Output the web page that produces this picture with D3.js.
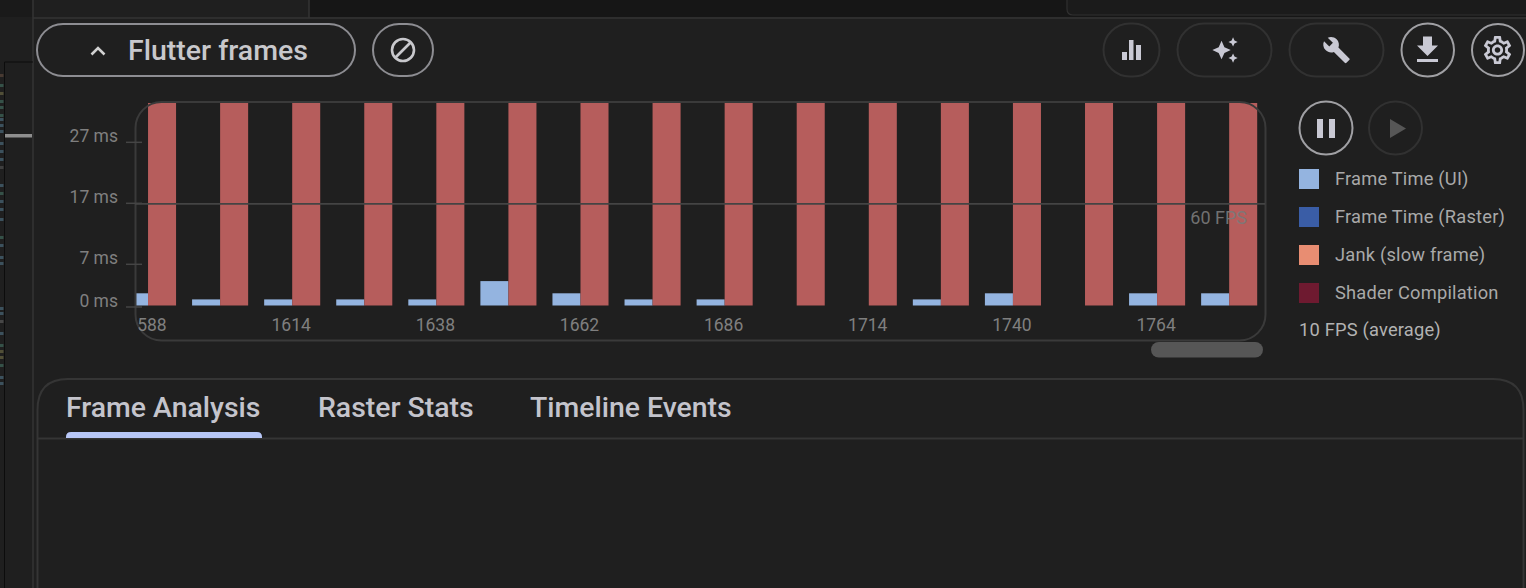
<!DOCTYPE html>
<html><head><meta charset="utf-8">
<style>html,body{margin:0;padding:0;background:#1f1f1f;overflow:hidden}svg{display:block}text{font-family:Roboto,sans-serif}</style>
<script src="https://cdn.jsdelivr.net/npm/d3@7"></script></head><body>
<svg id="c" width="1526" height="588"></svg>
<script>
// ---- data ----
const frameIds   = [1588,1601,1614,1626,1638,1650,1662,1674,1686,1700,1714,1727,1740,1752,1764,1776];
const frameUiMs  = [2,1,1,1,1,4,2,1,1,0,0,1,2,0,2,2];
const frameRasterMs = [34,34,34,34,34,34,34,34,34,34,34,34,34,34,34,34];
const xTickFrames = [1588,1614,1638,1662,1686,1714,1740,1764];
const yTickMs = [0,7,17,27];
const targetMs = 16.67;
const targetLabel = "60 FPS";
const legendLabels = ["Frame Time (UI)","Frame Time (Raster)","Jank (slow frame)","Shader Compilation"];
const legendColors = ["#94b4e0","#3a5da6","#e88d72","#6e1a30"];
const averageLabel = "10 FPS (average)";
const tabLabels = ["Frame Analysis","Raster Stats","Timeline Events"];
const titleLabel = "Flutter frames";

const svg = d3.select("#c");
const line="#353535";

// ---- surrounding chrome ----
svg.append("rect").attr("x",0).attr("y",0).attr("width",33).attr("height",17).attr("fill","#1a1a1a");
svg.append("rect").attr("x",309).attr("y",0).attr("width",1217).attr("height",17).attr("fill","#161616");
svg.append("path").attr("d","M1067,0V9Q1067,15 1073,15H1526V0z").attr("fill","#1b1b1b");
svg.append("path").attr("d","M1067,0V9Q1067,15 1073,15H1526").attr("fill","none").attr("stroke","#303030").attr("stroke-width",1.2);
svg.append("path").attr("d","M33,0V588M33,18H1526M309,0V18").attr("fill","none").attr("stroke",line).attr("stroke-width",1.5);
svg.append("path").attr("d","M4.5,62V588M4.5,62H33").attr("stroke","#0c0c0c").attr("stroke-width",1).attr("fill","none");
svg.append("rect").attr("x",5).attr("y",134).attr("width",27).attr("height",3.5).attr("fill","#8e8e8e");
const specks=[[74,"#7a5a4a"],[84,"#4f8f7a"],[92,"#8e8a55"],[100,"#4f8f7a"],[106,"#4f8f7a"],[114,"#4f8f7a"],[118,"#5f8fa8"],[124,"#5f8fa8"],[130,"#5f8fa8"],[142,"#5f8fa8"],[150,"#5f8fa8"],[158,"#5f8fa8"],[166,"#666"],[184,"#5f8fa8"],[192,"#4f8f7a"],[200,"#5f8fa8"],[208,"#5f8fa8"],[218,"#5f8fa8"],[236,"#4f8f7a"],[244,"#5f8fa8"],[256,"#5f8fa8"],[262,"#5f8fa8"],[307,"#5f8fa8"],[312,"#5f8fa8"],[320,"#777"],[332,"#5f8fa8"],[344,"#4f8f7a"],[350,"#8e8a55"],[356,"#8e8a55"],[364,"#4f8f7a"],[376,"#5f8fa8"],[382,"#5f8fa8"]];
svg.selectAll(".sp").data(specks).join("rect").attr("class","sp").attr("x",0).attr("width",3.5).attr("y",d=>d[0]).attr("height",3).attr("fill",d=>d[1]).attr("opacity",.45);

// ---- header buttons ----
function pill(x0,x1,cy,h,stroke){svg.append("rect").attr("x",x0).attr("y",cy-h/2).attr("width",x1-x0).attr("height",h).attr("rx",h/2).attr("fill","none").attr("stroke",stroke).attr("stroke-width",2);}
function icon(d,cx,cy,s,fill){svg.append("path").attr("d",d).attr("transform",`translate(${cx-12*s},${cy-12*s}) scale(${s})`).attr("fill",fill);}
const bright="#8d8d92",dim="#313131",ic="#c9c9d4";
pill(37,355,50,52,bright);
svg.append("path").attr("d","M91.5,54.5L98,48L104.5,54.5").attr("fill","none").attr("stroke","#d2d2d2").attr("stroke-width",2.6);
svg.append("text").attr("x",128).attr("y",60).attr("font-size",28.5).attr("font-weight",500).attr("fill","#c8c8cc").text(titleLabel);
pill(373,433,50,52,bright);
svg.append("circle").attr("cx",403).attr("cy",50).attr("r",11).attr("fill","none").attr("stroke","#c8c8cc").attr("stroke-width",2.6);
svg.append("path").attr("d","M395,58L411,42").attr("stroke","#c8c8cc").attr("stroke-width",2.6);

pill(1103.5,1159.5,50,53,dim);
icon("M2.5,14h5v8h-5zM9.5,2h4.5v20h-4.5zM16.5,7h5v15h-5z",1131.5,50,1,ic);
pill(1177.5,1271.5,50,53,dim);
icon("M19 9l1.25-2.75L23 5l-2.75-1.25L19 1l-1.25 2.75L15 5l2.75 1.25L19 9zm-7.5.5L9 4 6.5 9.5 1 12l5.5 2.5L9 20l2.5-5.5L17 12l-5.5-2.5zM19 15l-1.25 2.75L15 19l2.75 1.25L19 23l1.25-2.75L23 19l-2.75-1.25L19 15z",1225,50,1.15,ic);
pill(1289.5,1383.5,50,53,dim);
icon("M22.7 19l-9.1-9.1c.9-2.3.4-5-1.5-6.9-2-2-5-2.4-7.4-1.3L9 6 6 9 1.6 4.7C.4 7.1.9 10.1 2.9 12.1c1.9 1.9 4.6 2.4 6.9 1.5l9.1 9.1c.4.4 1 .4 1.4 0l2.3-2.3c.5-.4.5-1.1.1-1.4z",1336.5,50,1.2,ic);
pill(1401.5,1454,50,53,"#a0a0a4");
icon("M19 9h-4V3H9v6H5l7 7 7-7zM5 18v2h14v-2H5z",1427.5,50,1.5,ic);
pill(1472,1524,50,52,"#a0a0a4");
icon("M19.43 12.98c.04-.32.07-.64.07-.98 0-.34-.03-.66-.07-.98l2.11-1.65c.19-.15.24-.42.12-.64l-2-3.46c-.09-.16-.26-.25-.44-.25-.06 0-.12.01-.17.03l-2.49 1c-.52-.4-1.08-.73-1.69-.98l-.38-2.65C14.46 2.18 14.25 2 14 2h-4c-.25 0-.46.18-.49.42l-.38 2.65c-.61.25-1.17.59-1.69.98l-2.49-1c-.06-.02-.12-.03-.18-.03-.17 0-.34.09-.43.25l-2 3.46c-.13.22-.07.49.12.64l2.11 1.65c-.04.32-.07.65-.07.98 0 .33.03.66.07.98l-2.11 1.65c-.19.15-.24.42-.12.64l2 3.46c.09.16.26.25.44.25.06 0 .12-.01.17-.03l2.49-1c.52.4 1.08.73 1.69.98l.38 2.65c.03.24.24.42.49.42h4c.25 0 .46-.18.49-.42l.38-2.65c.61-.25 1.17-.59 1.69-.98l2.49 1c.06.02.12.03.18.03.17 0 .34-.09.43-.25l2-3.46c.12-.22.07-.49-.12-.64l-2.11-1.65zm-1.98-1.71c.04.31.05.52.05.73 0 .21-.02.43-.05.73l-.14 1.13.89.7 1.08.84-.7 1.21-1.27-.51-1.04-.42-.9.68c-.43.32-.84.56-1.25.73l-1.06.43-.16 1.13-.2 1.35h-1.4l-.19-1.35-.16-1.13-1.06-.43c-.43-.18-.83-.41-1.23-.71l-.91-.7-1.06.43-1.27.51-.7-1.21 1.08-.84.89-.7-.14-1.13c-.03-.31-.05-.54-.05-.74s.02-.43.05-.73l.14-1.13-.89-.7-1.08-.84.7-1.21 1.27.51 1.04.42.9-.68c.43-.32.84-.56 1.25-.73l1.06-.43.16-1.13.2-1.35h1.39l.19 1.35.16 1.13 1.06.43c.43.18.83.41 1.23.71l.91.7 1.06-.43 1.27-.51.7 1.21-1.07.85-.89.7.14 1.13zM12 8c-2.21 0-4 1.79-4 4s1.79 4 4 4 4-1.79 4-4-1.79-4-4-4zm0 6c-1.1 0-2-.9-2-2s.9-2 2-2 2 .9 2 2-.9 2-2 2z",1497.5,50,1.4,ic);

// pause / play
pill(1299.5,1352.5,128,53,"#a0a0a4");
svg.append("path").attr("d","M1317,119h6v19h-6zM1329,119h6v19h-6z").attr("fill",ic);
pill(1369,1422,128,53,dim);
svg.append("path").attr("d","M1390,119L1406,128.5L1390,138z").attr("fill","#565656");

// ---- chart ----
const x = d3.scaleBand().domain(frameIds).range([112,1265.2]).paddingInner(16/72).paddingOuter(8/72);
const sub = d3.scaleBand().domain(["ui","raster"]).range([0,x.bandwidth()]);
const y = d3.scaleLinear().domain([0,33.2]).range([305.5,103]);

svg.append("clipPath").attr("id","plot").append("rect").attr("x",136).attr("y",103).attr("width",1128).attr("height",240);

const plot = svg.append("g").attr("clip-path","url(#plot)");
plot.selectAll(".ui").data(frameIds).join("rect").attr("class","ui")
  .attr("x",d=>x(d)+sub("ui")).attr("width",sub.bandwidth())
  .attr("y",(d,i)=>y(frameUiMs[i])).attr("height",(d,i)=>y(0)-y(frameUiMs[i]))
  .attr("fill",legendColors[0]);
plot.selectAll(".raster").data(frameIds).join("rect").attr("class","raster")
  .attr("x",d=>x(d)+sub("raster")).attr("width",sub.bandwidth())
  .attr("y",(d,i)=>y(frameRasterMs[i])).attr("height",(d,i)=>y(0)-y(frameRasterMs[i]))
  .attr("fill","#b65d5c");

// chart frame
svg.append("rect").attr("x",135.5).attr("y",102).attr("width",1130).attr("height",238.5).attr("rx",26)
  .attr("fill","none").attr("stroke","#3a3a3a").attr("stroke-width",2);

// y axis
const yAxis = d3.axisLeft(y).tickValues(yTickMs).tickSize(16).tickPadding(8).tickFormat(d=>d+" ms");
const gy = svg.append("g").attr("transform","translate(142,1)").call(yAxis);
gy.select(".domain").remove();
gy.selectAll(".tick line").attr("stroke","#454545").attr("stroke-width",1.5);
gy.selectAll(".tick text").attr("fill","#7f7f7f").attr("font-size",17.5).attr("font-family","Roboto,sans-serif").attr("y",-5.5);

// target line
svg.append("line").attr("x1",135).attr("x2",1265).attr("y1",y(targetMs)).attr("y2",y(targetMs)).attr("stroke","#444").attr("stroke-width",1.7);
svg.append("text").attr("x",1247).attr("y",224).attr("text-anchor","end").attr("font-size",18).attr("fill","#7a7a7a").attr("opacity",.9).text(targetLabel);

// x axis labels sit at the left edge of the raster bar
const xTick = d=>x(d)+sub("raster")-1;
const xg = svg.append("g").attr("clip-path","url(#plot)");
xg.selectAll("text").data(xTickFrames).join("text")
  .attr("x",xTick).attr("y",331).attr("text-anchor","middle").attr("font-size",17.5).attr("fill","#7f7f7f").text(d=>d);

// scroll thumb
svg.append("rect").attr("x",1151).attr("y",342).attr("width",112).attr("height",15.5).attr("rx",7.7).attr("fill","#565656");

// ---- legend ----
const leg = svg.append("g").selectAll("g").data(legendLabels).join("g")
  .attr("transform",(d,i)=>`translate(1299,${169+i*38})`);
leg.append("rect").attr("width",20).attr("height",20).attr("fill",(d,i)=>legendColors[i]);
leg.append("text").attr("x",36).attr("y",16).attr("font-size",18.3).attr("fill","#a9a9a9").attr("letter-spacing",.2).text(d=>d);
svg.append("text").attr("x",1299).attr("y",335.5).attr("font-size",18.3).attr("fill","#b2b2b2").attr("letter-spacing",.2).text(averageLabel);

// ---- tabs ----
svg.append("path").attr("d","M37.5,588V410Q37.5,379 68,379H1493Q1523.5,379 1523.5,410V588").attr("fill","none").attr("stroke",line).attr("stroke-width",2);
svg.append("line").attr("x1",38).attr("x2",1523).attr("y1",438.5).attr("y2",438.5).attr("stroke",line).attr("stroke-width",2);
svg.append("path").attr("d","M66,438V437Q66,432 71,432H257Q262,432 262,437V438z").attr("fill","#b8c7f7");
const tabX=[66,318,530];
svg.selectAll(".tab").data(tabLabels).join("text").attr("class","tab").attr("x",(d,i)=>tabX[i]).attr("y",416.5)
  .attr("font-size",28.4).attr("font-weight",500).attr("fill","#c4c4cc").text(d=>d);
</script></body></html>
